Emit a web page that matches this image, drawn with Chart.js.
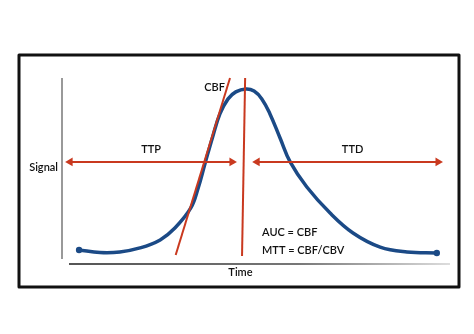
<!DOCTYPE html>
<html>
<head>
<meta charset="utf-8">
<script src="https://cdn.jsdelivr.net/npm/chart.js@4"></script>
<style>
  body { margin: 0; background: #fff; }
  #wrap { width: 474px; height: 334px; }
</style>
</head>
<body>
<div id="wrap"><canvas id="chart"></canvas></div>
<script>
// contrast curve, time in arbitrary units, signal normalised to the peak
const curveTime = [0.44, 0.98, 1.49, 2.01, 2.53, 2.91, 3.32, 3.51, 3.69, 3.89, 4.07, 4.28, 4.48, 4.74, 4.95, 5.15, 5.36, 5.62, 5.88, 6.31, 6.91, 7.50, 8.20, 8.89, 9.66];
const curveSignal = [0.080, 0.066, 0.069, 0.092, 0.138, 0.206, 0.321, 0.436, 0.579, 0.734, 0.860, 0.946, 0.986, 1.003, 0.991, 0.946, 0.860, 0.722, 0.585, 0.441, 0.292, 0.178, 0.097, 0.069, 0.063];

// steepest slope (CBF) and time of peak
const tangentTime = [2.93, 4.33];
const tangentSignal = [0.052, 1.066];
const peakTime = [4.64, 4.72];
const peakSignal = [0.046, 1.066];

// TTP / TTD arrows
const ttpTime = [0.21, 4.38];
const ttdTime = [5.03, 9.69];
const arrowSignal = 0.585;

const arrowLabels = ['TTP', 'TTD'];
const formulas = ['AUC = CBF', 'MTT = CBF/CBV'];
const axisTitles = ['Time', 'Signal'];
const slopeLabel = 'CBF';

const RED = '#c9391f';
const BLUE = '#1b4a86';
const FONT = '600 11px Lato, "Open Sans", sans-serif';

function pts(xs, ys) {
  return xs.map((x, i) => ({ x, y: Array.isArray(ys) ? ys[i] : ys }));
}

function arrow(xs) {
  return {
    data: pts(xs, arrowSignal),
    showLine: true,
    borderColor: RED,
    backgroundColor: RED,
    borderWidth: 2,
    pointStyle: 'triangle',
    pointRadius: 5,
    pointRotation: [-90, 90],
    pointBorderWidth: 0,
    clip: false,
  };
}

const decorations = {
  id: 'decorations',
  beforeDatasetsDraw(chart) {
    const { ctx, chartArea: a } = chart;
    ctx.save();
    // sketchy frame
    ctx.strokeStyle = '#111';
    ctx.lineWidth = 3;
    ctx.lineJoin = 'round';
    ctx.strokeRect(19, 55, 440, 232);
    // y axis
    ctx.strokeStyle = '#777';
    ctx.lineWidth = 1.5;
    ctx.beginPath();
    ctx.moveTo(a.left, a.top + 6);
    ctx.lineTo(a.left, a.bottom - 5);
    ctx.stroke();
    // x axis, fading to the right
    const g = ctx.createLinearGradient(a.left + 7, 0, a.right, 0);
    g.addColorStop(0, '#555');
    g.addColorStop(0.6, '#777');
    g.addColorStop(1, '#ddd');
    ctx.strokeStyle = g;
    ctx.lineWidth = 2;
    ctx.beginPath();
    ctx.moveTo(a.left + 7, a.bottom);
    ctx.lineTo(a.right, a.bottom);
    ctx.stroke();
    ctx.restore();
  },
  afterDatasetsDraw(chart) {
    const { ctx, chartArea: a, scales: { x, y } } = chart;
    const ay = y.getPixelForValue(arrowSignal);
    ctx.save();
    ctx.font = FONT;
    ctx.fillStyle = '#111';
    ctx.textBaseline = 'middle';
    ctx.textAlign = 'center';
    ctx.fillText(arrowLabels[0], x.getPixelForValue((ttpTime[0] + ttpTime[1]) / 2), ay - 12);
    ctx.fillText(arrowLabels[1], x.getPixelForValue((ttdTime[0] + ttdTime[1]) / 2) + 5, ay - 12);
    ctx.fillText(axisTitles[0], x.getPixelForValue(4.6), a.bottom + 8);
    ctx.textAlign = 'right';
    ctx.fillText(axisTitles[1], a.left - 4, ay + 6);
    ctx.fillText(slopeLabel, x.getPixelForValue(tangentTime[1]) - 5, y.getPixelForValue(tangentSignal[1]) + 10);
    ctx.textAlign = 'left';
    const fx = x.getPixelForValue(peakTime[0]) + 20;
    ctx.fillText(formulas[0], fx, a.bottom - 32);
    ctx.fillText(formulas[1], fx, a.bottom - 14);
    ctx.restore();
  },
};

new Chart(document.getElementById('chart'), {
  type: 'scatter',
  data: {
    datasets: [
      {
        data: pts(tangentTime, tangentSignal),
        showLine: true,
        borderColor: RED,
        borderWidth: 2,
        pointRadius: 0,
        clip: false,
      },
      {
        data: pts(peakTime, peakSignal),
        showLine: true,
        borderColor: RED,
        borderWidth: 2,
        pointRadius: 0,
        clip: false,
      },
      arrow(ttpTime),
      arrow(ttdTime),
      {
        data: pts(curveTime, curveSignal),
        showLine: true,
        borderColor: BLUE,
        backgroundColor: BLUE,
        borderWidth: 3.5,
        tension: 0.4,
        pointRadius: (c) => (c.dataIndex === 0 || c.dataIndex === curveTime.length - 1 ? 3.2 : 0),
        pointBorderWidth: 0,
        clip: false,
      },
    ],
  },
  options: {
    responsive: true,
    maintainAspectRatio: false,
    animation: false,
    layout: { padding: { left: 62, right: 24, top: 72, bottom: 70 } },
    scales: {
      x: { type: 'linear', min: 0, max: 10, display: false },
      y: { min: 0, max: 1.1, display: false },
    },
    plugins: {
      legend: { display: false },
      tooltip: { enabled: false },
    },
  },
  plugins: [decorations],
});
</script>
</body>
</html>
